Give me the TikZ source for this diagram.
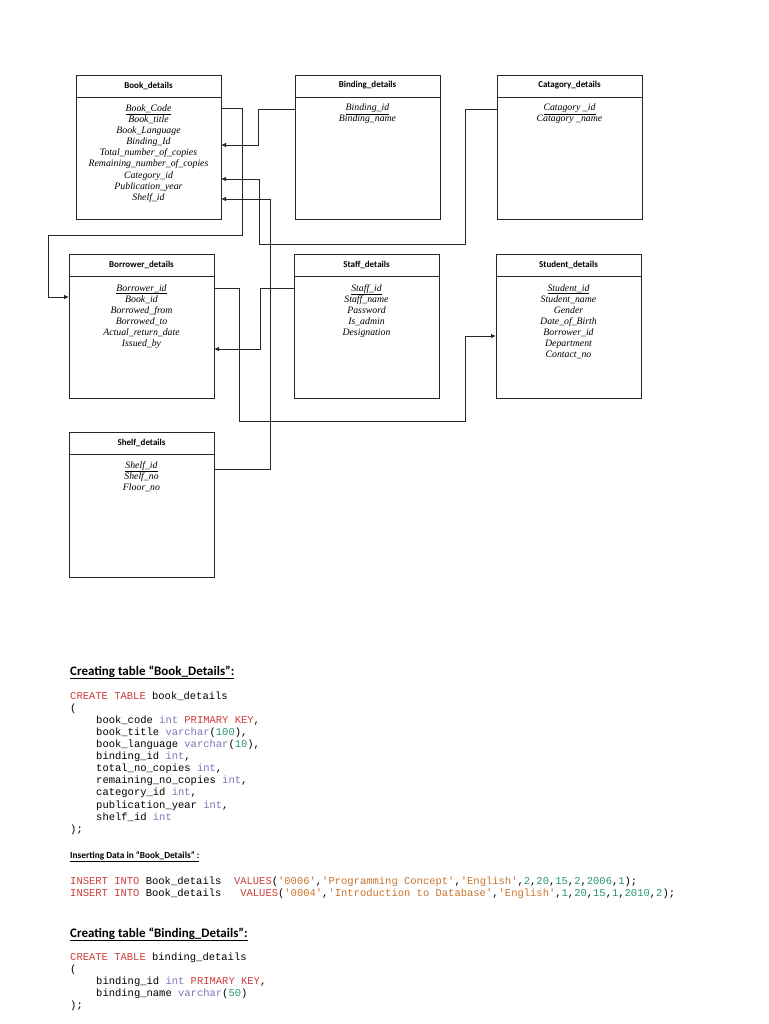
\documentclass[tikz,border=0pt]{standalone}
\usepackage{fontspec}
\setmainfont{Liberation Serif}
\setsansfont{Carlito}
\setmonofont{Liberation Mono}
\usepackage{tikz}
\usetikzlibrary{arrows.meta}
\usetikzlibrary{positioning}
\definecolor{kwred}{RGB}{205,62,62}
\definecolor{typepurple}{RGB}{130,115,185}
\definecolor{numgreen}{RGB}{40,150,110}
\definecolor{strorange}{RGB}{200,115,45}
\newcommand{\kw}[1]{\textcolor{kwred}{#1}}
\newcommand{\ty}[1]{\textcolor{typepurple}{#1}}
\newcommand{\nm}[1]{\textcolor{numgreen}{#1}}
\newcommand{\sq}[1]{\textcolor{strorange}{#1}}
\tikzset{
    tbl/.style={
           rectangle,
           draw=black!85, line width=0.9pt,
           inner sep=0pt, outer sep=0pt,
           minimum width=145pt,
           minimum height=144.5pt,
           },
}
\tikzset{
    title/.style={
           inner sep=0pt,
           font=\sffamily\bfseries\fontsize{9}{10}\selectfont,
           },
}
\tikzset{
    attr/.style={
           anchor=north,
           inner sep=0pt,
           align=center,
           font=\itshape\fontsize{9.8}{11.1}\selectfont,
           },
}
\tikzset{
    link/.style={
           draw=black!85, line width=0.8pt,
           },
    arr/.style={
           link,
           -{Latex[length=5pt,width=4.5pt]},
           },
}
\tikzset{
    heading/.style={
           anchor=base west,
           inner sep=0pt,
           font=\sffamily\bfseries\fontsize{13}{15}\selectfont,
           },
    code/.style={
           anchor=base west,
           inner sep=0pt,
           font=\ttfamily\fontsize{10.5}{12}\selectfont,
           },
}
\begin{document}
\begin{tikzpicture}[x=1pt,y=-1pt]
\useasboundingbox (0,0) rectangle (768,1024);
% tables
\node[tbl,anchor=north west] (book) at (76,75) {};
\node[tbl,right=74pt of book] (binding) {};
\node[tbl,right=57pt of binding] (category) {};
\node[tbl,anchor=north west] (borrower) at (69,254) {};
\node[tbl,right=80pt of borrower] (staff) {};
\node[tbl,right=57pt of staff] (student) {};
\node[tbl,below=34pt of borrower] (shelf) {};
% headers
\foreach \t/\name in {book/Book\_details,binding/Binding\_details,category/Catagory\_details,
    borrower/Borrower\_details,staff/Staff\_details,student/Student\_details,shelf/Shelf\_details}{
  \draw[link] ([yshift=-22pt]\t.north west) -- ([yshift=-22pt]\t.north east);
  \node[title] (\t-title) at ([yshift=-10.5pt]\t.north) {\name};
}
% attributes
\node[attr] (book-attr) at ([yshift=-29.5pt]book.north) {\underline{Book\_Code}\\Book\_title\\Book\_Language\\Binding\_Id\\Total\_number\_of\_copies\\Remaining\_number\_of\_copies\\Category\_id\\Publication\_year\\Shelf\_id};
\node[attr] (binding-attr) at ([yshift=-28.5pt]binding.north) {\underline{Binding\_id}\\Binding\_name};
\node[attr] (category-attr) at ([yshift=-28.5pt]category.north) {\underline{Catagory \_id}\\Catagory \_name};
\node[attr] (borrower-attr) at ([yshift=-30pt]borrower.north) {\underline{Borrower\_id}\\Book\_id\\Borrowed\_from\\Borrowed\_to\\Actual\_return\_date\\Issued\_by};
\node[attr] (staff-attr) at ([yshift=-30pt]staff.north) {\underline{Staff\_id}\\Staff\_name\\Password\\Is\_admin\\Designation};
\node[attr] (student-attr) at ([yshift=-30pt]student.north) {\underline{Student\_id}\\Student\_name\\Gender\\Date\_of\_Birth\\Borrower\_id\\Department\\Contact\_no};
\node[attr] (shelf-attr) at ([yshift=-28.5pt]shelf.north) {\underline{Shelf\_id}\\Shelf\_no\\Floor\_no};
% links
\draw[arr] ([yshift=-33pt]book.north east) -- ++(21,0) |- (48,235) |- ([yshift=-43pt]borrower.north west);
\draw[arr] ([yshift=-34pt]binding.north west) -- ++(-37,0) |- ([yshift=-70pt]book.north east);
\draw[arr] ([yshift=-34pt]category.north west) -- ++(-32,0) |- (259,244) |- ([yshift=-104pt]book.north east);
\draw[arr] ([yshift=-37pt]shelf.north east) -- ++(56,0) |- ([yshift=-124pt]book.north east);
\draw[arr] ([yshift=-34pt]staff.north west) -- ++(-34,0) |- ([yshift=-95pt]borrower.north east);
\draw[arr] ([yshift=-34pt]borrower.north east) -- ++(25,0) |- (465,421) |- ([yshift=-82pt]student.north west);
% sql
\node[heading] (h1) at (70,675) {\underline{Creating table “Book\_Details”:}};
\node[code] (c1) at (70,699) {\kw{CREATE TABLE} book\_details};
\node[code] (c2) at (70,711) {(};
\node[code] (c3) at (96,723) {book\_code \ty{int} \kw{PRIMARY KEY},};
\node[code] (c4) at (96,735) {book\_title \ty{varchar}(\nm{100}),};
\node[code] (c5) at (96,747.5) {book\_language \ty{varchar}(\nm{10}),};
\node[code] (c6) at (96,759.5) {binding\_id \ty{int},};
\node[code] (c7) at (96,771.5) {total\_no\_copies \ty{int},};
\node[code] (c8) at (96,783.5) {remaining\_no\_copies \ty{int},};
\node[code] (c9) at (96,795.5) {category\_id \ty{int},};
\node[code] (c10) at (96,808) {publication\_year \ty{int},};
\node[code] (c11) at (96,820) {shelf\_id \ty{int}};
\node[code] (c12) at (70,832) {);};
\node[heading,font=\sffamily\bfseries\fontsize{9.3}{11}\selectfont] (h2) at (70,858) {\underline{Inserting Data in “Book\_Details” :}};
\node[code] (i1) at (70,884) {\kw{INSERT INTO} Book\_details~~\kw{VALUES}(\sq{'0006'},\sq{'Programming Concept'},\sq{'English'},\nm{2},\nm{20},\nm{15},\nm{2},\nm{2006},\nm{1});};
\node[code] (i2) at (70,896) {\kw{INSERT INTO} Book\_details~~~\kw{VALUES}(\sq{'0004'},\sq{'Introduction to Database'},\sq{'English'},\nm{1},\nm{20},\nm{15},\nm{1},\nm{2010},\nm{2});};
\node[heading] (h3) at (70,937) {\underline{Creating table “Binding\_Details”:}};
\node[code] (b1) at (70,960) {\kw{CREATE TABLE} binding\_details};
\node[code] (b2) at (70,972) {(};
\node[code] (b3) at (96,984) {binding\_id \ty{int} \kw{PRIMARY KEY},};
\node[code] (b4) at (96,996) {binding\_name \ty{varchar}(\nm{50})};
\node[code] (b5) at (70,1008) {);};
\end{tikzpicture}
\end{document}
